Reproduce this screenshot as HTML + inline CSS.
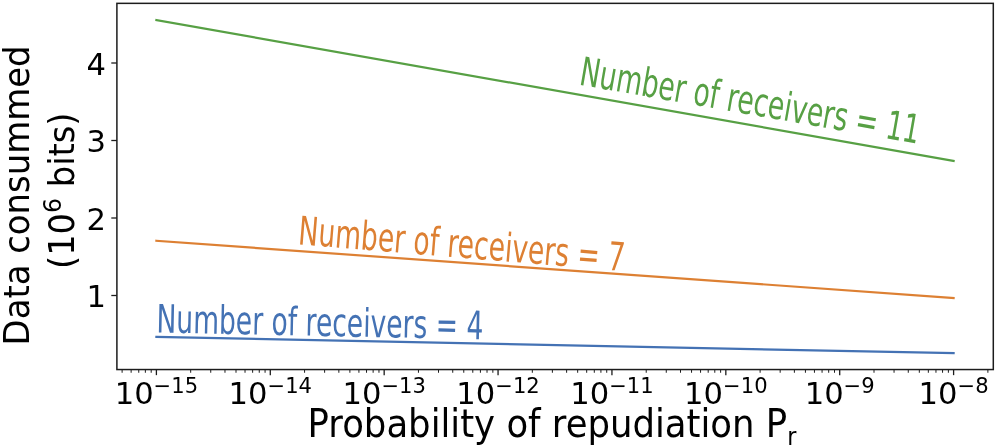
<!DOCTYPE html>
<html lang="en"><head><meta charset="utf-8"><title>Data consumed vs probability of repudiation</title>
<style>html,body{margin:0;padding:0;background:#fff;overflow:hidden}svg{display:block}text{font-family:"DejaVu Sans","Liberation Sans",sans-serif;fill:#000}</style></head><body>
<svg width="997" height="448" viewBox="0 0 997 448">
<rect x="0" y="0" width="997" height="448" fill="#fff"/>
<g stroke="#1c1c1c" stroke-width="1.3" fill="none">
<line x1="156.40" y1="369.55" x2="156.40" y2="375.15"/>
<line x1="270.29" y1="369.55" x2="270.29" y2="375.15"/>
<line x1="384.17" y1="369.55" x2="384.17" y2="375.15"/>
<line x1="498.06" y1="369.55" x2="498.06" y2="375.15"/>
<line x1="611.94" y1="369.55" x2="611.94" y2="375.15"/>
<line x1="725.83" y1="369.55" x2="725.83" y2="375.15"/>
<line x1="839.71" y1="369.55" x2="839.71" y2="375.15"/>
<line x1="953.60" y1="369.55" x2="953.60" y2="375.15"/>
</g>
<g stroke="#1c1c1c" stroke-width="1.0" fill="none">
<line x1="122.12" y1="369.55" x2="122.12" y2="372.75"/>
<line x1="131.13" y1="369.55" x2="131.13" y2="372.75"/>
<line x1="138.76" y1="369.55" x2="138.76" y2="372.75"/>
<line x1="145.36" y1="369.55" x2="145.36" y2="372.75"/>
<line x1="151.19" y1="369.55" x2="151.19" y2="372.75"/>
<line x1="190.68" y1="369.55" x2="190.68" y2="372.75"/>
<line x1="210.74" y1="369.55" x2="210.74" y2="372.75"/>
<line x1="224.97" y1="369.55" x2="224.97" y2="372.75"/>
<line x1="236.00" y1="369.55" x2="236.00" y2="372.75"/>
<line x1="245.02" y1="369.55" x2="245.02" y2="372.75"/>
<line x1="252.64" y1="369.55" x2="252.64" y2="372.75"/>
<line x1="259.25" y1="369.55" x2="259.25" y2="372.75"/>
<line x1="265.07" y1="369.55" x2="265.07" y2="372.75"/>
<line x1="304.57" y1="369.55" x2="304.57" y2="372.75"/>
<line x1="324.62" y1="369.55" x2="324.62" y2="372.75"/>
<line x1="338.85" y1="369.55" x2="338.85" y2="372.75"/>
<line x1="349.89" y1="369.55" x2="349.89" y2="372.75"/>
<line x1="358.91" y1="369.55" x2="358.91" y2="372.75"/>
<line x1="366.53" y1="369.55" x2="366.53" y2="372.75"/>
<line x1="373.13" y1="369.55" x2="373.13" y2="372.75"/>
<line x1="378.96" y1="369.55" x2="378.96" y2="372.75"/>
<line x1="418.45" y1="369.55" x2="418.45" y2="372.75"/>
<line x1="438.51" y1="369.55" x2="438.51" y2="372.75"/>
<line x1="452.74" y1="369.55" x2="452.74" y2="372.75"/>
<line x1="463.77" y1="369.55" x2="463.77" y2="372.75"/>
<line x1="472.79" y1="369.55" x2="472.79" y2="372.75"/>
<line x1="480.42" y1="369.55" x2="480.42" y2="372.75"/>
<line x1="487.02" y1="369.55" x2="487.02" y2="372.75"/>
<line x1="492.85" y1="369.55" x2="492.85" y2="372.75"/>
<line x1="532.34" y1="369.55" x2="532.34" y2="372.75"/>
<line x1="552.39" y1="369.55" x2="552.39" y2="372.75"/>
<line x1="566.62" y1="369.55" x2="566.62" y2="372.75"/>
<line x1="577.66" y1="369.55" x2="577.66" y2="372.75"/>
<line x1="586.68" y1="369.55" x2="586.68" y2="372.75"/>
<line x1="594.30" y1="369.55" x2="594.30" y2="372.75"/>
<line x1="600.91" y1="369.55" x2="600.91" y2="372.75"/>
<line x1="606.73" y1="369.55" x2="606.73" y2="372.75"/>
<line x1="646.23" y1="369.55" x2="646.23" y2="372.75"/>
<line x1="666.28" y1="369.55" x2="666.28" y2="372.75"/>
<line x1="680.51" y1="369.55" x2="680.51" y2="372.75"/>
<line x1="691.55" y1="369.55" x2="691.55" y2="372.75"/>
<line x1="700.56" y1="369.55" x2="700.56" y2="372.75"/>
<line x1="708.19" y1="369.55" x2="708.19" y2="372.75"/>
<line x1="714.79" y1="369.55" x2="714.79" y2="372.75"/>
<line x1="720.62" y1="369.55" x2="720.62" y2="372.75"/>
<line x1="760.11" y1="369.55" x2="760.11" y2="372.75"/>
<line x1="780.17" y1="369.55" x2="780.17" y2="372.75"/>
<line x1="794.39" y1="369.55" x2="794.39" y2="372.75"/>
<line x1="805.43" y1="369.55" x2="805.43" y2="372.75"/>
<line x1="814.45" y1="369.55" x2="814.45" y2="372.75"/>
<line x1="822.07" y1="369.55" x2="822.07" y2="372.75"/>
<line x1="828.68" y1="369.55" x2="828.68" y2="372.75"/>
<line x1="834.50" y1="369.55" x2="834.50" y2="372.75"/>
<line x1="874.00" y1="369.55" x2="874.00" y2="372.75"/>
<line x1="894.05" y1="369.55" x2="894.05" y2="372.75"/>
<line x1="908.28" y1="369.55" x2="908.28" y2="372.75"/>
<line x1="919.32" y1="369.55" x2="919.32" y2="372.75"/>
<line x1="928.33" y1="369.55" x2="928.33" y2="372.75"/>
<line x1="935.96" y1="369.55" x2="935.96" y2="372.75"/>
<line x1="942.56" y1="369.55" x2="942.56" y2="372.75"/>
<line x1="948.39" y1="369.55" x2="948.39" y2="372.75"/>
<line x1="987.88" y1="369.55" x2="987.88" y2="372.75"/>
</g>
<g stroke="#1c1c1c" stroke-width="1.3" fill="none">
<line x1="111.30" y1="295.5" x2="116.9" y2="295.5"/>
<line x1="111.30" y1="218.0" x2="116.9" y2="218.0"/>
<line x1="111.30" y1="140.5" x2="116.9" y2="140.5"/>
<line x1="111.30" y1="63.0" x2="116.9" y2="63.0"/>
</g>
<g fill="none" stroke-width="2.2" stroke-linecap="square">
<line x1="156.4" y1="20.0" x2="953.6" y2="161.0" stroke="#57A044"/>
<line x1="156.4" y1="240.8" x2="953.6" y2="298.0" stroke="#DD8033"/>
<line x1="156.4" y1="336.9" x2="953.6" y2="353.2" stroke="#4472B4"/>
</g>
<rect x="116.9" y="3.35" width="876.4" height="366.2" fill="none" stroke="#1c1c1c" stroke-width="1.5"/>
<g font-size="30.6" text-anchor="end">
<text x="106.0" y="307.10">1</text>
<text x="106.0" y="229.60">2</text>
<text x="106.0" y="152.10">3</text>
<text x="106.0" y="74.60">4</text>
</g>
<g font-size="30.6" text-anchor="middle">
<text x="156.40" y="403.7">10<tspan font-size="21.1" dy="-11.2">−15</tspan></text>
<text x="270.29" y="403.7">10<tspan font-size="21.1" dy="-11.2">−14</tspan></text>
<text x="384.17" y="403.7">10<tspan font-size="21.1" dy="-11.2">−13</tspan></text>
<text x="498.06" y="403.7">10<tspan font-size="21.1" dy="-11.2">−12</tspan></text>
<text x="611.94" y="403.7">10<tspan font-size="21.1" dy="-11.2">−11</tspan></text>
<text x="725.83" y="403.7">10<tspan font-size="21.1" dy="-11.2">−10</tspan></text>
<text x="839.71" y="403.7">10<tspan font-size="21.1" dy="-11.2">−9</tspan></text>
<text x="953.60" y="403.7">10<tspan font-size="21.1" dy="-11.2">−8</tspan></text>
</g>
<text transform="translate(307.6,436.8) scale(0.910,1)" font-size="39">Probability of repudiation P<tspan font-size="24.5" dy="7.8">r</tspan></text>
<text transform="translate(29.3,345.4) rotate(-90) scale(0.936,1)" font-size="36.2">Data consummed</text>
<text transform="translate(73.9,269.0) rotate(-90) scale(0.931,1)" font-size="36.2">(10<tspan font-size="25.3" dy="-13.3">6</tspan><tspan dy="13.3"> bits)</tspan></text>
<text transform="translate(578.2,84.5) rotate(9.9) scale(0.672,1)" font-size="39.6" word-spacing="0" style="fill:#57A044">Number of receivers = 11</text>
<text transform="translate(297.6,244.2) rotate(4.7) scale(0.672,1)" font-size="39.6" word-spacing="0" style="fill:#DD8033">Number of receivers = 7</text>
<text transform="translate(156.2,332.4) rotate(1.2) scale(0.676,1)" font-size="39.3" word-spacing="0" style="fill:#4472B4">Number of receivers = 4</text>
</svg></body></html>
